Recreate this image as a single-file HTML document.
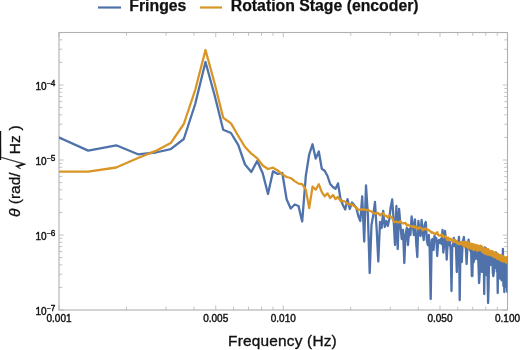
<!DOCTYPE html>
<html><head><meta charset="utf-8"><style>
html,body{margin:0;padding:0;background:#fff;}
svg{display:block;}
text{font-family:"Liberation Sans",Arial,sans-serif;}
</style></head><body>
<svg width="520" height="350" viewBox="0 0 520 350">
<rect width="520" height="350" fill="#fff"/>
<g fill="none" stroke="#c4c4c4">
<path d="M59.00 310.00v-4.7M59.00 32.50v4.7M126.51 310.00v-3.3M126.51 32.50v3.3M165.99 310.00v-3.3M165.99 32.50v3.3M194.01 310.00v-3.3M194.01 32.50v3.3M215.74 310.00v-4.7M215.74 32.50v4.7M233.50 310.00v-3.3M233.50 32.50v3.3M248.51 310.00v-3.3M248.51 32.50v3.3M261.52 310.00v-3.3M261.52 32.50v3.3M272.99 310.00v-3.3M272.99 32.50v3.3M283.25 310.00v-4.7M283.25 32.50v4.7M350.76 310.00v-3.3M350.76 32.50v3.3M390.24 310.00v-3.3M390.24 32.50v3.3M418.26 310.00v-3.3M418.26 32.50v3.3M439.99 310.00v-4.7M439.99 32.50v4.7M457.75 310.00v-3.3M457.75 32.50v3.3M472.76 310.00v-3.3M472.76 32.50v3.3M485.77 310.00v-3.3M485.77 32.50v3.3M497.24 310.00v-3.3M497.24 32.50v3.3M507.50 310.00v-4.7M507.50 32.50v4.7M59.00 310.00h4.7M507.50 310.00h-4.7M59.00 287.42h3.3M507.50 287.42h-3.3M59.00 274.22h3.3M507.50 274.22h-3.3M59.00 264.85h3.3M507.50 264.85h-3.3M59.00 257.58h3.3M507.50 257.58h-3.3M59.00 251.64h3.3M507.50 251.64h-3.3M59.00 246.62h3.3M507.50 246.62h-3.3M59.00 242.27h3.3M507.50 242.27h-3.3M59.00 238.43h3.3M507.50 238.43h-3.3M59.00 235.00h4.7M507.50 235.00h-4.7M59.00 212.42h3.3M507.50 212.42h-3.3M59.00 199.22h3.3M507.50 199.22h-3.3M59.00 189.85h3.3M507.50 189.85h-3.3M59.00 182.58h3.3M507.50 182.58h-3.3M59.00 176.64h3.3M507.50 176.64h-3.3M59.00 171.62h3.3M507.50 171.62h-3.3M59.00 167.27h3.3M507.50 167.27h-3.3M59.00 163.43h3.3M507.50 163.43h-3.3M59.00 160.00h4.7M507.50 160.00h-4.7M59.00 137.42h3.3M507.50 137.42h-3.3M59.00 124.22h3.3M507.50 124.22h-3.3M59.00 114.85h3.3M507.50 114.85h-3.3M59.00 107.58h3.3M507.50 107.58h-3.3M59.00 101.64h3.3M507.50 101.64h-3.3M59.00 96.62h3.3M507.50 96.62h-3.3M59.00 92.27h3.3M507.50 92.27h-3.3M59.00 88.43h3.3M507.50 88.43h-3.3M59.00 85.00h4.7M507.50 85.00h-4.7M59.00 62.42h3.3M507.50 62.42h-3.3M59.00 49.22h3.3M507.50 49.22h-3.3M59.00 39.85h3.3M507.50 39.85h-3.3M59.00 32.58h3.3M507.50 32.58h-3.3" stroke-width="1"/>
<rect x="59.0" y="32.5" width="448.5" height="277.5" stroke-width="1.1" stroke="#b0b0b0"/>
</g>
<g clip-path="url(#pc)">
<clipPath id="pc"><rect x="59.0" y="32.5" width="448.5" height="277.5"/></clipPath>
<g fill="none" stroke-width="2.3" stroke-linejoin="round" stroke-linecap="round">
<path stroke="#4F72AB" d="M48.7 132.8 L88.2 150.6 L116.2 145.3 L138.0 154.3 L155.7 152.5 L170.7 149.2 L183.8 139.0 L195.2 104.0 L205.5 62.0 L214.8 96.0 L223.2 129.8 L231.0 133.0 L238.3 145.2 L245.0 164.5 L251.3 172.0 L257.2 161.0 L262.7 173.3 L268.0 194.0 L273.0 171.3 L277.7 174.0 L282.3 173.0 L286.6 199.3 L290.7 208.5 L294.7 204.5 L298.5 206.0 L302.2 221.5 L305.8 176.0 L309.2 154.5 L312.5 144.3 L315.7 158.6 L318.8 151.5 L321.8 168.8 L324.7 170.8 L327.5 176.0 L330.2 184.0 L332.9 187.0 L335.5 188.8 L338.0 183.4 L340.5 199.0 L342.9 205.0 L345.2 209.5 L347.5 199.2 L349.8 209.0 L352.0 202.5 L354.1 205.0 L356.2 207.5 L358.3 216.0 L360.3 221.0 L362.2 196.3 L364.2 241.5 L366.0 185.5 L367.9 215.0 L369.7 273.0 L371.5 225.0 L373.3 215.0 L375.0 202.0 L376.7 230.0 L378.3 261.5 L380.0 222.0 L381.6 228.0 L383.2 211.0 L384.7 227.0 L386.3 221.0 L387.8 226.0 L389.3 219.0 L390.7 207.0 L392.2 199.5 L393.6 219.0 L395.0 245.0 L396.4 206.0 L397.7 249.0 L399.1 209.0 L400.4 225.0 L401.7 239.0 L403.0 230.0 L404.3 263.0 L405.5 235.0 L406.8 228.0 L408.0 245.0 L409.2 229.0 L410.4 235.0 L411.6 216.5 L412.8 225.0 L413.9 235.0 L415.0 219.5 L416.2 243.0 L417.3 257.0 L418.4 221.0 L419.5 232.0 L420.5 236.0 L421.6 220.0 L422.7 232.0 L423.7 240.0 L424.7 225.0 L425.8 222.0 L426.8 240.0 L427.8 245.0 L428.8 235.0 L429.7 250.0 L430.7 299.0 L431.7 240.0 L432.6 239.0 L433.6 250.0 L434.5 236.0 L435.4 240.0 L436.3 238.0 L437.2 256.0 L438.1 242.0 L439.0 240.0 L439.9 243.0 L440.8 239.0 L441.6 244.0 L442.5 230.0 L443.3 252.5 L444.2 245.0 L445.0 231.0 L445.9 240.0 L446.7 259.6 L447.5 246.0 L448.3 241.0 L449.1 245.0 L449.9 242.0 L450.7 250.0 L451.5 291.0 L452.2 248.0 L453.0 244.0 L453.8 238.0 L454.5 246.0 L455.3 241.0 L456.0 248.0 L456.8 272.0 L457.5 247.0 L458.2 244.0 L459.0 237.0 L459.7 300.0 L460.4 252.0 L461.1 246.0 L461.8 262.0 L462.5 247.0 L463.2 240.0 L463.9 237.0 L464.6 246.0 L465.2 244.0 L465.9 249.0 L466.6 264.0 L467.3 250.0 L467.9 246.0 L468.6 239.6 L469.2 249.0 L469.9 247.0 L470.5 251.0 L471.1 250.0 L471.8 276.0 L472.4 276.0 L473.0 246.6 L473.7 262.3 L474.3 246.4 L474.9 259.3 L475.5 247.3 L476.1 256.9 L476.7 247.2 L477.3 259.1 L477.9 248.9 L478.5 265.2 L479.1 283.0 L479.7 273.8 L480.3 249.7 L480.8 269.4 L481.4 246.3 L482.0 271.9 L482.6 251.3 L483.1 270.7 L483.7 250.0 L484.2 294.0 L484.8 247.5 L485.3 275.4 L485.9 248.2 L486.4 266.8 L487.0 249.5 L487.5 270.9 L488.1 303.0 L488.6 287.1 L489.1 253.4 L489.6 265.7 L490.2 252.8 L490.7 264.5 L491.2 253.4 L491.7 263.2 L492.2 251.9 L492.8 272.1 L493.3 276.0 L493.8 272.6 L494.3 255.0 L494.8 267.3 L495.3 253.0 L495.8 267.9 L496.3 252.7 L496.8 271.4 L497.2 254.8 L497.7 293.0 L498.2 255.1 L498.7 278.6 L499.2 257.9 L499.6 272.1 L500.1 255.1 L500.6 278.7 L501.1 256.8 L501.5 280.3 L502.0 256.9 L502.5 277.6 L502.9 249.0 L503.4 286.1 L503.8 257.0 L504.3 292.0 L504.7 257.7 L505.2 286.8 L505.6 260.3 L506.1 286.6 L506.5 258.1 L507.0 291.4 L507.4 257.5 L507.8 292.4 L508.3 258.4"/>
<path stroke="#D99627" d="M48.7 171.6 L88.2 171.6 L116.2 167.5 L138.0 158.0 L155.7 150.9 L170.7 143.1 L183.8 124.0 L195.2 90.0 L205.5 50.0 L214.8 84.0 L223.2 117.7 L231.0 123.4 L238.3 136.0 L245.0 147.0 L251.3 153.6 L257.2 158.3 L262.7 165.5 L268.0 169.0 L273.0 167.7 L277.7 170.5 L282.3 174.2 L286.6 177.0 L290.7 178.0 L294.7 181.1 L298.5 183.6 L302.2 184.2 L305.8 189.7 L309.2 208.1 L312.5 186.7 L315.7 189.7 L318.8 184.2 L321.8 192.2 L324.7 196.3 L327.5 193.4 L330.2 198.0 L332.9 195.0 L335.5 199.0 L338.0 197.0 L340.5 200.8 L342.9 201.0 L345.2 201.5 L347.5 203.7 L349.8 204.5 L352.0 204.5 L354.1 206.0 L356.2 207.5 L358.3 210.0 L360.3 209.5 L362.2 209.3 L364.2 209.5 L366.0 210.0 L367.9 209.8 L369.7 211.0 L371.5 211.4 L373.3 212.9 L375.0 213.7 L376.7 212.9 L378.3 213.2 L380.0 215.4 L381.6 213.5 L383.2 213.1 L384.7 215.6 L386.3 215.8 L387.8 217.6 L389.3 215.4 L390.7 216.5 L392.2 217.8 L393.6 221.4 L395.0 222.2 L396.4 221.5 L397.7 222.3 L399.1 222.3 L400.4 221.0 L401.7 223.1 L403.0 223.3 L404.3 223.1 L405.5 223.0 L406.8 225.5 L408.0 224.6 L409.2 225.5 L410.4 226.2 L411.6 226.2 L412.8 227.1 L413.9 226.1 L415.0 227.6 L416.2 227.0 L417.3 228.7 L418.4 228.9 L419.5 227.2 L420.5 227.7 L421.6 228.2 L422.7 230.2 L423.7 228.8 L424.7 229.3 L425.8 228.5 L426.8 229.5 L427.8 229.6 L428.8 230.0 L429.7 231.1 L430.7 231.5 L431.7 232.8 L432.6 232.4 L433.6 233.4 L434.5 233.5 L435.4 234.2 L436.3 233.5 L437.2 232.2 L438.1 234.8 L439.0 235.5 L439.9 235.7 L440.8 235.0 L441.6 235.8 L442.5 234.7 L443.3 237.2 L444.2 236.9 L445.0 236.5 L445.9 236.3 L446.7 239.3 L447.5 240.1 L448.3 237.6 L449.1 240.2 L449.9 239.2 L450.7 238.7 L451.5 239.5 L452.2 241.3 L453.0 242.0 L453.8 239.5 L454.5 241.6 L455.3 240.0 L456.0 242.4 L456.8 241.3 L457.5 243.3 L458.2 243.9 L459.0 242.6 L459.7 244.3 L460.4 242.4 L461.1 241.8 L461.8 243.7 L462.5 242.1 L463.2 245.6 L463.9 241.9 L464.6 246.7 L465.2 242.7 L465.9 246.1 L466.6 241.8 L467.3 247.0 L467.9 242.1 L468.6 248.4 L469.2 243.5 L469.9 248.0 L470.5 243.6 L471.1 248.7 L471.8 243.9 L472.4 248.9 L473.0 244.2 L473.7 250.0 L474.3 244.8 L474.9 249.4 L475.5 244.7 L476.1 249.4 L476.7 245.7 L477.3 250.8 L477.9 245.4 L478.5 250.2 L479.1 246.5 L479.7 250.1 L480.3 245.7 L480.8 249.9 L481.4 246.3 L482.0 251.7 L482.6 248.0 L483.1 252.4 L483.7 247.9 L484.2 253.1 L484.8 248.8 L485.3 253.8 L485.9 248.7 L486.4 253.2 L487.0 250.4 L487.5 254.7 L488.1 249.1 L488.6 254.3 L489.1 250.4 L489.6 255.2 L490.2 250.9 L490.7 255.1 L491.2 251.3 L491.7 255.5 L492.2 251.1 L492.8 255.8 L493.3 252.0 L493.8 257.1 L494.3 253.1 L494.8 257.2 L495.3 252.3 L495.8 257.2 L496.3 253.7 L496.8 258.6 L497.2 254.1 L497.7 257.9 L498.2 254.2 L498.7 259.3 L499.2 255.2 L499.6 259.0 L500.1 255.2 L500.6 260.3 L501.1 255.5 L501.5 260.8 L502.0 256.3 L502.5 260.2 L502.9 255.9 L503.4 261.6 L503.8 256.6 L504.3 260.8 L504.7 257.6 L505.2 261.8 L505.6 257.9 L506.1 262.7 L506.5 257.1 L507.0 261.9 L507.4 258.4 L507.8 263.3 L508.3 257.9"/>
</g>
</g>
<g font-size="10" fill="#111" stroke="#111" stroke-width="0.4">
<text x="59.00" y="321.6" text-anchor="middle">0.001</text><text x="215.74" y="321.6" text-anchor="middle">0.005</text><text x="283.25" y="321.6" text-anchor="middle">0.010</text><text x="439.99" y="321.6" text-anchor="middle">0.050</text><text x="507.50" y="321.6" text-anchor="middle">0.100</text>
<text x="55.2" y="314.80" text-anchor="end">10<tspan dy="-3.9" font-size="7">&#8722;</tspan><tspan font-size="8.2">7</tspan></text><text x="55.2" y="239.80" text-anchor="end">10<tspan dy="-3.9" font-size="7">&#8722;</tspan><tspan font-size="8.2">6</tspan></text><text x="55.2" y="164.80" text-anchor="end">10<tspan dy="-3.9" font-size="7">&#8722;</tspan><tspan font-size="8.2">5</tspan></text><text x="55.2" y="89.80" text-anchor="end">10<tspan dy="-3.9" font-size="7">&#8722;</tspan><tspan font-size="8.2">4</tspan></text>
</g>
<text x="282.5" y="346" text-anchor="middle" font-size="15.4" letter-spacing="0.2" fill="#111" stroke="#111" stroke-width="0.35">Frequency (Hz)</text>
<g transform="translate(20 0) rotate(-90)" font-size="15.5" fill="#111" stroke="#111" stroke-width="0.3">
<text x="-217" y="0"><tspan font-style="italic">&#952;</tspan> (rad/</text>
<text transform="translate(-169.8 2.77) scale(0.85 1)" font-size="25.7" style="font-family:'Noto Sans CJK JP',sans-serif" stroke-width="0.2">&#8730;</text>
<line x1="-160" y1="-19.4" x2="-130.9" y2="-19.4" stroke="#111" stroke-width="1.2"/>
<text x="-154.3" y="0">Hz</text>
<text x="-130.5" y="0">)</text>
</g>
<g stroke-width="2.2">
<line x1="98" y1="7.5" x2="121" y2="7.5" stroke="#4F72AB"/>
<line x1="200" y1="7.5" x2="222" y2="7.5" stroke="#D99627"/>
</g>
<g font-size="15.8" font-weight="bold" fill="#111" stroke="#111" stroke-width="0.25">
<text x="129.3" y="11.4">Fringes</text>
<text x="230.8" y="11.4">Rotation Stage (encoder)</text>
</g>
</svg>
</body></html>
